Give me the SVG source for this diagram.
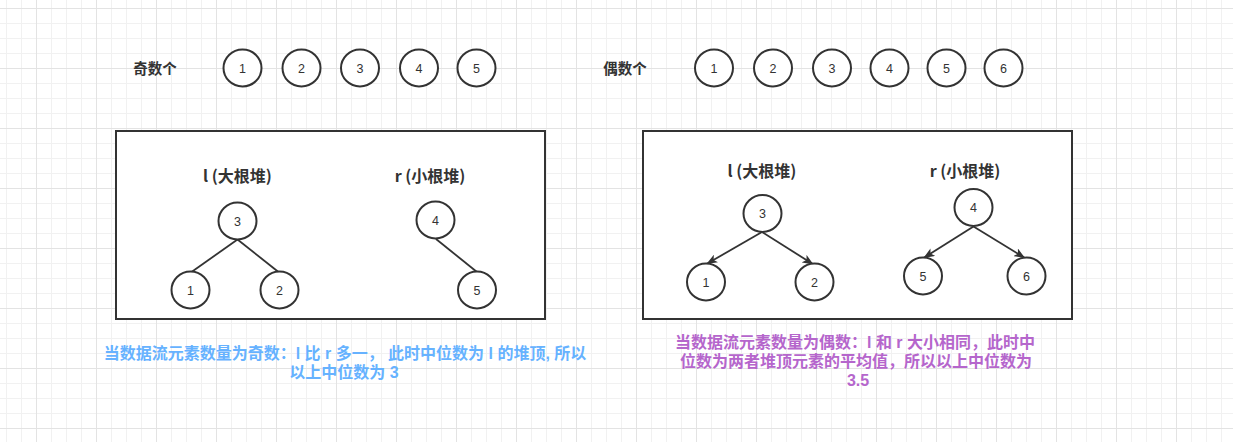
<svg xmlns="http://www.w3.org/2000/svg" width="1233" height="442" viewBox="0 0 1233 442">
<style>
  .node ellipse { fill: #ffffff; stroke: #333333; stroke-width: 2; }
  .num { font-family: "Liberation Sans", "Noto Sans CJK SC", sans-serif; font-size: 12.5px; fill: #333333; text-anchor: middle; }
  .lbl { font-family: "Noto Sans CJK SC", "Liberation Sans", sans-serif; font-weight: bold; fill: #333333; text-anchor: middle; }
  .box { fill: #ffffff; stroke: #333333; stroke-width: 2; }
  .edge { stroke: #333333; stroke-width: 1.8; fill: none; }
  .cap { font-family: "Liberation Sans", "Noto Sans CJK SC", sans-serif; font-weight: bold; font-size: 16px; text-anchor: middle; }
</style>
<defs>
  <pattern id="grid" patternUnits="userSpaceOnUse" x="36" y="8" width="60" height="60">
    <path d="M15.5,0V60M30.5,0V60M45.5,0V60M0,15.5H60M0,30.5H60M0,45.5H60" stroke="#f1f1f1" stroke-width="1" fill="none"/>
    <path d="M0.5,0V60M0,0.5H60" stroke="#e3e3e3" stroke-width="1" fill="none"/>
  </pattern>
  <marker id="arr" viewBox="0 0 10 8" refX="10" refY="4" markerWidth="11" markerHeight="9" markerUnits="userSpaceOnUse" orient="auto">
    <path d="M0,0 L10,4 L0,8 L2.5,4 Z" fill="#333333"/>
  </marker>
</defs>
<rect width="1233" height="442" fill="#ffffff"/>
<rect width="1233" height="442" fill="url(#grid)"/>

<!-- row labels -->
<g id="odd-label"><text class="lbl" x="155" y="74" font-size="14.5">奇数个</text></g>
<g id="even-label"><text class="lbl" x="625" y="74" font-size="14.5">偶数个</text></g>

<!-- top odd row -->
<g id="o1" class="node"><ellipse cx="242.5" cy="68" rx="19" ry="18.5"/><text class="num" x="242.5" y="72.5">1</text></g>
<g id="o2" class="node"><ellipse cx="301.5" cy="68" rx="19" ry="18.5"/><text class="num" x="301.5" y="72.5">2</text></g>
<g id="o3" class="node"><ellipse cx="360" cy="68" rx="19" ry="18.5"/><text class="num" x="360" y="72.5">3</text></g>
<g id="o4" class="node"><ellipse cx="419" cy="68" rx="19" ry="18.5"/><text class="num" x="419" y="72.5">4</text></g>
<g id="o5" class="node"><ellipse cx="476.5" cy="68" rx="19" ry="18.5"/><text class="num" x="476.5" y="72.5">5</text></g>

<!-- top even row -->
<g id="e1" class="node"><ellipse cx="714" cy="68" rx="19" ry="18.5"/><text class="num" x="714" y="72.5">1</text></g>
<g id="e2" class="node"><ellipse cx="773" cy="68" rx="19" ry="18.5"/><text class="num" x="773" y="72.5">2</text></g>
<g id="e3" class="node"><ellipse cx="832" cy="68" rx="19" ry="18.5"/><text class="num" x="832" y="72.5">3</text></g>
<g id="e4" class="node"><ellipse cx="889.5" cy="68" rx="19" ry="18.5"/><text class="num" x="889.5" y="72.5">4</text></g>
<g id="e5" class="node"><ellipse cx="946.5" cy="68" rx="19" ry="18.5"/><text class="num" x="946.5" y="72.5">5</text></g>
<g id="e6" class="node"><ellipse cx="1003.5" cy="68" rx="19" ry="18.5"/><text class="num" x="1003.5" y="72.5">6</text></g>

<!-- containers -->
<g id="left-box"><rect class="box" x="116" y="131" width="429" height="188"/></g>
<g id="right-box"><rect class="box" x="643" y="131" width="429" height="188"/></g>

<!-- connectors -->
<g id="connectors">
  <line class="edge" x1="237.5" y1="239.5" x2="191.5" y2="272"/>
  <line class="edge" x1="237.5" y1="239.5" x2="278.5" y2="272"/>
  <line class="edge" x1="436" y1="239" x2="477" y2="272"/>
  <line class="edge" x1="762" y1="232" x2="706.5" y2="264" marker-end="url(#arr)"/>
  <line class="edge" x1="762" y1="232" x2="813.5" y2="264.5" marker-end="url(#arr)"/>
  <line class="edge" x1="973.5" y1="226.5" x2="923.5" y2="258" marker-end="url(#arr)"/>
  <line class="edge" x1="973.5" y1="226.5" x2="1025" y2="258" marker-end="url(#arr)"/>
</g>

<!-- left box content -->
<g id="l-title-odd"><text class="lbl" x="237.5" y="182" font-size="16">l (大根堆)</text></g>
<g id="r-title-odd"><text class="lbl" x="430" y="182" font-size="16">r (小根堆)</text></g>
<g id="lo3" class="node"><ellipse cx="237.5" cy="221" rx="19" ry="18.5"/><text class="num" x="237.5" y="225.5">3</text></g>
<g id="lo1" class="node"><ellipse cx="190.5" cy="290" rx="19" ry="18.5"/><text class="num" x="190.5" y="294.5">1</text></g>
<g id="lo2" class="node"><ellipse cx="279.5" cy="290" rx="19" ry="18.5"/><text class="num" x="279.5" y="294.5">2</text></g>
<g id="ro4" class="node"><ellipse cx="435.5" cy="220" rx="19" ry="18.5"/><text class="num" x="435.5" y="224.5">4</text></g>
<g id="ro5" class="node"><ellipse cx="477" cy="290" rx="19" ry="18.5"/><text class="num" x="477" y="294.5">5</text></g>

<!-- right box content -->
<g id="l-title-even"><text class="lbl" x="762" y="177" font-size="16">l (大根堆)</text></g>
<g id="r-title-even"><text class="lbl" x="965" y="177" font-size="16">r (小根堆)</text></g>
<g id="le3" class="node"><ellipse cx="762.5" cy="213.5" rx="19" ry="18.5"/><text class="num" x="762.5" y="218">3</text></g>
<g id="le1" class="node"><ellipse cx="706" cy="282" rx="19" ry="18.5"/><text class="num" x="706" y="286.5">1</text></g>
<g id="le2" class="node"><ellipse cx="814.5" cy="282" rx="19" ry="18.5"/><text class="num" x="814.5" y="286.5">2</text></g>
<g id="re4" class="node"><ellipse cx="973.5" cy="207.5" rx="19" ry="18.5"/><text class="num" x="973.5" y="212">4</text></g>
<g id="re5" class="node"><ellipse cx="923" cy="276" rx="19" ry="18.5"/><text class="num" x="923" y="280.5">5</text></g>
<g id="re6" class="node"><ellipse cx="1026.5" cy="276" rx="19" ry="18.5"/><text class="num" x="1026.5" y="280.5">6</text></g>

<!-- captions -->
<g id="odd-caption">
  <text class="cap" fill="#66B2FF"><tspan x="345" y="358.5">当数据流元素数量为奇数：l 比 r 多一， 此时中位数为 l 的堆顶, 所以</tspan><tspan x="344" y="378">以上中位数为 3</tspan></text>
</g>
<g id="even-caption">
  <text class="cap" fill="#B566CC"><tspan x="855" y="347.5">当数据流元素数量为偶数：l 和 r 大小相同，此时中</tspan><tspan x="856" y="366.5">位数为两者堆顶元素的平均值，所以以上中位数为</tspan><tspan x="858" y="385.5">3.5</tspan></text>
</g>
</svg>
